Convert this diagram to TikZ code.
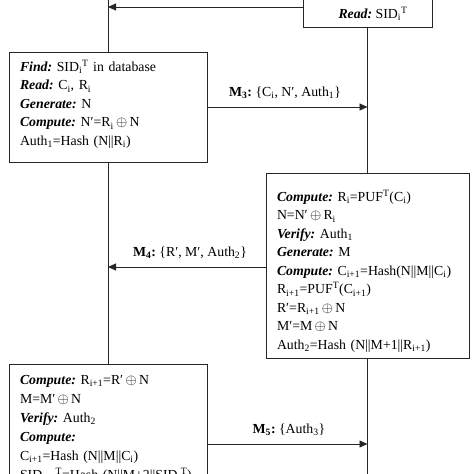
\documentclass[tikz,border=0pt]{standalone}
\usepackage{fontspec}
\setmainfont{Liberation Serif}
\usetikzlibrary{arrows.meta}
\frenchspacing
\newcommand{\kw}[1]{\textbf{\textit{#1}}}
\newcommand{\sub}[1]{\textsubscript{#1}}
\newcommand{\sups}[1]{\textsuperscript{#1}}
\newcommand{\xo}{\,$\oplus$\,}
\newcommand{\topst}[1]{\rule{0pt}{#1}}
\newcommand{\botst}[1]{\rule[-#1]{0pt}{#1}}
\begin{document}
\begin{tikzpicture}[x=1pt,y=-1pt,
  box/.style={draw=black!85, line width=0.9pt, align=left, inner xsep=11pt, inner ysep=0pt,
    font=\fontsize{13.8}{18.5}\selectfont\frenchspacing},
  life/.style={draw=black!85, line width=0.9pt},
  msg/.style={draw=black!85, line width=0.9pt, -{Triangle[length=8pt,width=7pt]}},
  lbl/.style={font=\fontsize{13.8}{15}\selectfont\frenchspacing, inner sep=1pt}]
\useasboundingbox (0,0) rectangle (474,474);
\clip (0,0) rectangle (474,474);

% top right box
\node[box, minimum width=129pt, anchor=south] (t) at (367.5,28)
  {\topst{40pt}\hspace*{11pt}\kw{Read:} SID\sub{i}\sups{T}\botst{9pt}};
% box 1
\node[box, text width=176pt, anchor=north] (b1) at (108,52)
  {\topst{19pt}\kw{Find:} SID\sub{i}\sups{T} in database\\
   \kw{Read:} C\sub{i}, R\sub{i}\\
   \kw{Generate:} N\\
   \kw{Compute:} N′=R\sub{i}\xo N\\
   Auth\sub{1}=Hash (N||R\sub{i})\botst{17pt}};
% box 2
\node[box, text width=181pt, anchor=north] (b2) at (367.5,173)
  {\topst{28pt}\kw{Compute:} R\sub{i}=PUF\sups{T}(C\sub{i})\\
   N=N′\xo R\sub{i}\\
   \kw{Verify:} Auth\sub{1}\\
   \kw{Generate:} M\\
   \kw{Compute:} C\sub{i+1}=Hash(N||M||C\sub{i})\\
   R\sub{i+1}=PUF\sups{T}(C\sub{i+1})\\
   R′=R\sub{i+1}\xo N\\
   M′=M\xo N\\
   Auth\sub{2}=Hash (N||M+1||R\sub{i+1})\botst{9pt}};
% box 3
\node[box, text width=176pt, anchor=north, font=\fontsize{13.8}{19}\selectfont\frenchspacing] (b3) at (108,364)
  {\topst{20pt}\kw{Compute:} R\sub{i+1}=R′\xo N\\
   M=M′\xo N\\
   \kw{Verify:} Auth\sub{2}\\
   \kw{Compute:}\\
   C\sub{i+1}=Hash (N||M||C\sub{i})\\
   SID\sub{i+1}\sups{T}=Hash (N||M+2||SID\sub{i}\sups{T})\botst{40pt}};

% lifelines
\coordinate (lt) at (108,-10);
\coordinate (rb) at (367.5,490);
\draw[life] (lt) -- (b1.north);
\draw[life] (b1.south) -- (b3.north);
\draw[life] (t.south) -- (b2.north);
\draw[life] (b2.south) -- (rb);

% messages
\coordinate (m2) at (108,7);
\coordinate (m3) at (367.5,107);
\coordinate (m4) at (108,267);
\coordinate (m5) at (367.5,444);
\draw[msg] (t.west |- m2) -- (m2);
\node[lbl] (l2) at (233,-7) {\textbf{M\sub{2}:} \{SID\sub{i}\sups{T}\}};
\draw[msg] (b1.east |- m3) -- (m3);
\node[lbl] (l3) at (285,93) {\textbf{M\sub{3}:} \{C\sub{i}, N′, Auth\sub{1}\}};
\draw[msg] (b2.west |- m4) -- (m4);
\node[lbl] (l4) at (190,253) {\textbf{M\sub{4}:} \{R′, M′, Auth\sub{2}\}};
\draw[msg] (b3.east |- m5) -- (m5);
\node[lbl] (l5) at (289,430) {\textbf{M\sub{5}:} \{Auth\sub{3}\}};
\end{tikzpicture}
\end{document}
